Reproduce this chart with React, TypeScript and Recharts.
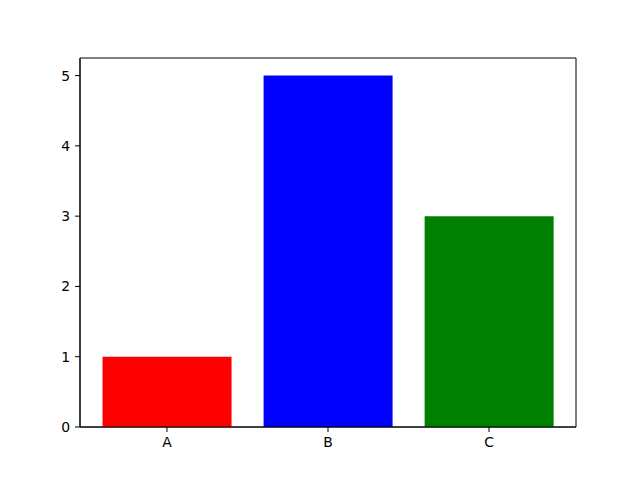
import React from 'react'
import { BarChart, Bar, XAxis, YAxis, Cell, ReferenceArea } from 'recharts'

const categories = ['A', 'B', 'C']
const values = [1, 5, 3]
const barColors = ['#ff0000', '#0000ff', '#008000']
const xTicks = [0, 1, 2]
const yTicks = [0, 1, 2, 3, 4, 5]
const xDomain = [-0.54, 2.54]
const yMax = 5.25

const data = categories.map((name, i) => ({ idx: i, name, value: values[i] }))

const tickStyle = { fill: '#000', fontSize: 13.9, fontFamily: 'DejaVu Sans' }
const lineStyle = { stroke: '#000', strokeWidth: 1 }

export default function App() {
  return (
    <div style={{ position: 'absolute', left: 0, top: 0, background: '#fff' }}>
      <BarChart
        width={640}
        height={480}
        data={data}
        margin={{ top: 58, right: 64, bottom: 23, left: 0 }}
        barCategoryGap="10%"
      >
        <XAxis
          dataKey="idx"
          type="number"
          domain={xDomain}
          ticks={xTicks}
          tickFormatter={(v: number) => categories[v] ?? ''}
          allowDataOverflow
          height={30}
          tick={tickStyle}
          tickSize={5}
          tickMargin={5}
          axisLine={lineStyle}
          tickLine={lineStyle}
        />
        <YAxis
          width={80}
          domain={[0, yMax]}
          ticks={yTicks}
          allowDataOverflow
          tick={tickStyle}
          tickSize={5}
          tickMargin={5}
          axisLine={lineStyle}
          tickLine={lineStyle}
        />
        <Bar dataKey="value" isAnimationActive={false}>
          {data.map((d, i) => (
            <Cell key={d.name} fill={barColors[i]} />
          ))}
        </Bar>
        {/* axes frame */}
        <ReferenceArea
          y1={0}
          y2={yMax}
          fill="none"
          fillOpacity={0}
          stroke="#000"
          strokeWidth={1}
          ifOverflow="visible"
        />
      </BarChart>
    </div>
  )
}
